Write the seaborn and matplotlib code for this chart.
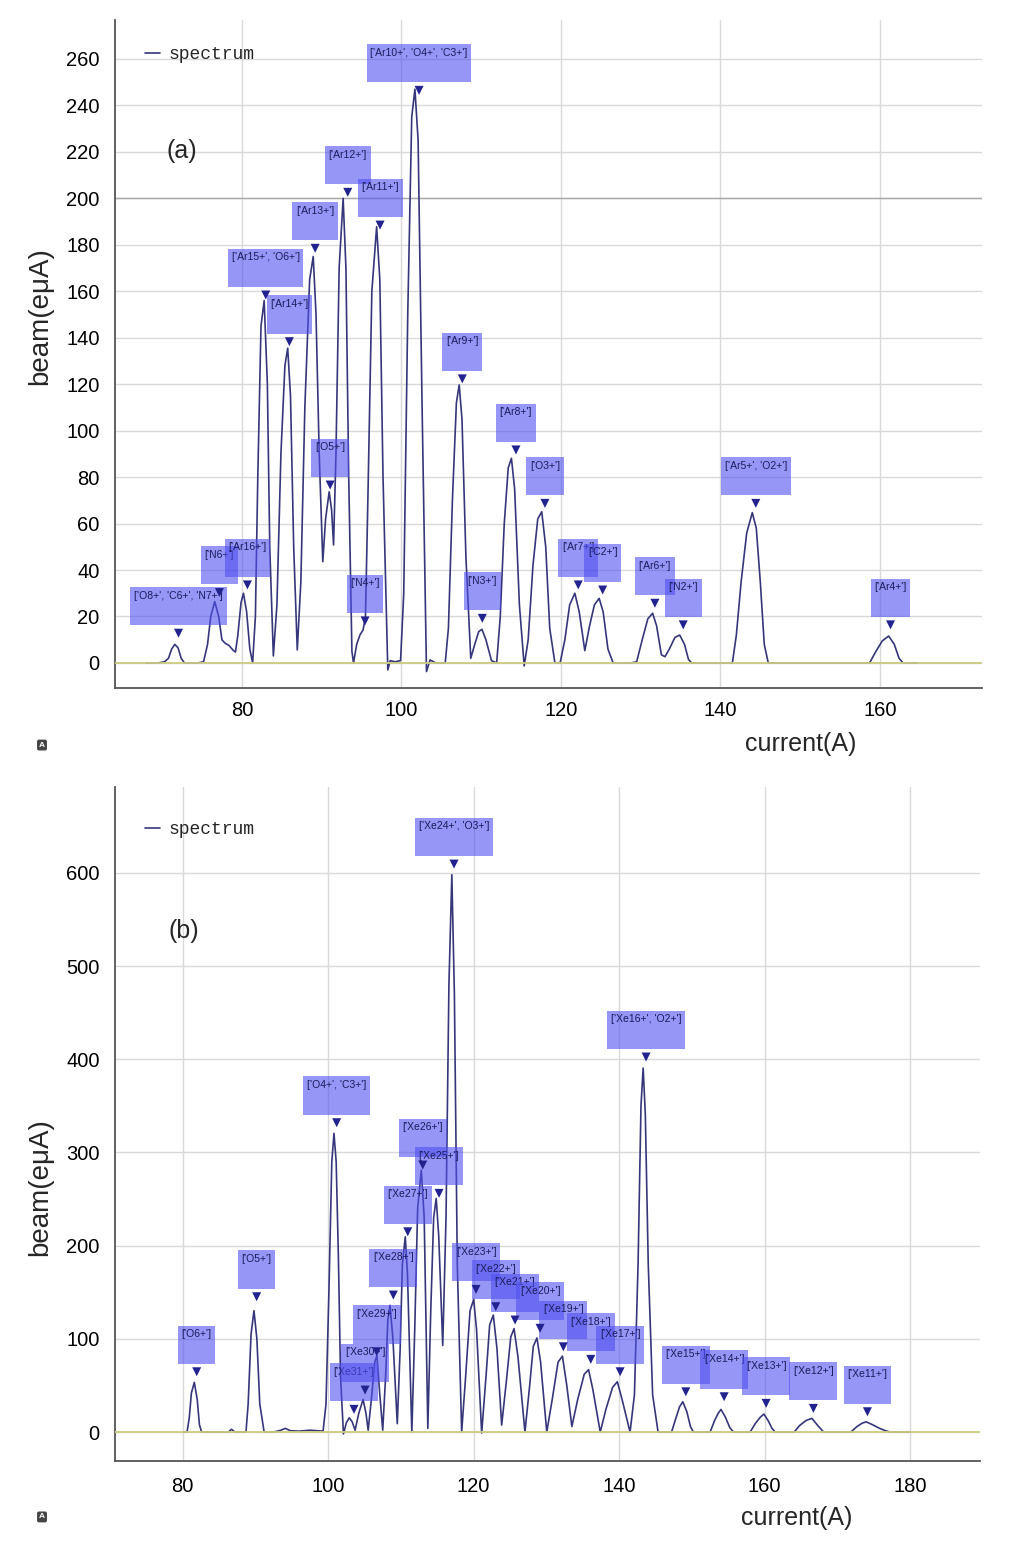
#!/usr/bin/env python3
# -*- coding: utf-8 -*-
"""
Charge state spectra, (a) Ar beam and (b) Xe beam, with peak labels.
"""
import pandas as pd
import seaborn as sns
import matplotlib.pyplot as plt

###############################################################################
#%% Spectrum (a)
a_current = [68.0, 69.5, 70.3,
             70.8, 71.2, 71.6, 72.0, 72.4, 72.8, 74.5, 75.2,
             75.7, 76.1, 76.6, 77.1, 77.5, 77.9, 78.4, 78.9, 79.2,
             79.5, 79.9, 80.2, 80.6, 81.0, 81.35,
             81.7, 82.0, 82.4, 82.8, 83.2, 83.5, 83.95,
             84.4, 84.9, 85.4, 85.75, 86.1, 86.5, 86.95,
             87.4, 87.9, 88.5, 88.95, 89.3, 89.7, 90.15,
             90.5, 90.95, 91.25, 91.5,
             91.8, 92.2, 92.7, 93.05, 93.4, 93.8,
             94.0, 94.4, 94.8, 95.2, 95.5,
             95.8, 96.3, 96.9, 97.3, 97.7, 98.3, 98.6, 99.2, 99.9,
             100.3, 100.8, 101.3, 101.7, 102.1, 102.6, 103.15, 103.6, 104.3, 105.5,
             105.9, 106.4, 106.9, 107.25, 107.6, 108.1, 108.7,
             109.2, 109.7, 110.1, 110.6, 111.3, 111.95,
             112.4, 112.9, 113.4, 113.8, 114.2, 114.8, 115.4,
             115.9, 116.5, 117.1, 117.6, 118.1, 118.6, 119.25, 119.9,
             120.5, 121.1, 121.75, 122.3, 123.0,
             123.6, 124.2, 124.8, 125.3, 125.9, 126.55, 128.8, 129.5,
             130.2, 130.9, 131.5, 132.0, 132.6, 133.05,
             133.6, 134.3, 134.9, 135.5, 136.0, 136.4, 141.5,
             142.0, 142.6, 143.3, 144.0, 144.5, 145.0, 145.5, 146.0, 158.7,
             159.5, 160.3, 161.1, 161.8, 162.4, 162.9, 164.7]
a_beam = [0, 0, 0.5,
          2, 6, 8, 6.5, 2, 0, 0, 0.5,
          8, 20, 26.4, 20, 10, 8.5, 7.5, 5.5, 4.7,
          12, 26, 30, 22, 6, 0,
          20, 80, 145, 156, 120, 50, 3,
          25, 90, 128, 135.5, 115, 50, 5.6,
          35, 110, 165, 175, 150, 90, 43.6,
          62, 73.7, 66, 50.8,
          90, 170, 200, 170, 80, 5,
          0, 8, 12, 14.2, 20,
          70, 160, 187.8, 165, 80, -3, 1, 0.5, 1,
          30, 150, 235, 247, 225, 110, -3.7, 1.3, 0, 0,
          15, 70, 112, 119.7, 105, 45, 2,
          8, 13.5, 14.5, 10, 1, 0,
          20, 60, 84, 88.1, 75, 25, -1.3,
          10, 42, 62, 65.1, 50, 15, 0, 0,
          10, 25, 30, 22, 5.3,
          16, 25, 27.8, 22, 6, 0, 0, 0.5,
          10, 19, 21.4, 16, 3.5, 2.7,
          6, 11, 12, 8, 1.5, 0, 0,
          12, 35, 56, 64.7, 58, 35, 8, 0, 0,
          5, 9.5, 11.6, 8, 2, 0, 0]

a_labels = ["['O8+', 'C6+', 'N7+']", "['N6+']", "['Ar16+']", "['Ar15+', 'O6+']",
            "['Ar14+']", "['Ar13+']", "['O5+']", "['Ar12+']", "['N4+']",
            "['Ar11+']", "['Ar10+', 'O4+', 'C3+']", "['Ar9+']", "['N3+']",
            "['Ar8+']", "['O3+']", "['Ar7+']", "['C2+']", "['Ar6+']", "['N2+']",
            "['Ar5+', 'O2+']", "['Ar4+']"]
a_label_current = [72.06, 77.19, 80.7, 83.0, 85.96, 89.19, 91.07, 93.28, 95.45,
                   97.33, 102.22, 107.64, 110.15, 114.37, 118.0, 122.18, 125.24,
                   131.79, 135.34, 144.44, 161.33]
a_label_beam = [12.8, 30.3, 33.6, 158.4, 138.3, 178.5, 76.6, 202.6, 18.1,
                188.5, 246.5, 122.3, 19.2, 91.7, 68.7, 33.6, 31.4,
                25.7, 16.4, 68.7, 16.4]

#%% Spectrum (b)
b_current = [80.1, 80.6, 80.9, 81.2, 81.6, 82.0, 82.3, 82.6,
             85.0, 86.3, 86.7, 87.2, 88.7,
             89.0, 89.4, 89.8, 90.2, 90.6, 91.2,
             92.5, 93.5, 94.1, 94.8, 96.0, 97.5, 99.3,
             99.7, 100.1, 100.5, 100.8, 101.1, 101.4, 101.7, 102.1,
             102.5, 102.9, 103.3, 103.7,
             104.2, 104.8, 105.2, 105.5,
             106.0, 106.4, 106.7, 107.1, 107.5,
             107.9, 108.2, 108.5, 108.9, 109.5,
             109.9, 110.2, 110.6, 110.9, 111.5,
             111.9, 112.3, 112.8, 113.2, 113.7,
             114.1, 114.5, 114.85, 115.2, 115.75,
             116.2, 116.6, 117.0, 117.35, 117.75, 118.35,
             118.9, 119.5, 120.0, 120.4, 121.1,
             121.7, 122.2, 122.7, 123.2, 123.85,
             124.5, 125.1, 125.55, 126.1, 127.05,
             127.7, 128.2, 128.7, 129.2, 130.05,
             130.8, 131.6, 132.2, 132.8, 133.5,
             134.3, 135.2, 135.8, 136.4, 137.4,
             138.2, 139.1, 139.75, 140.4, 141.5,
             142.1, 142.6, 143.0, 143.3, 143.6, 144.0, 144.6, 145.35,
             147.2, 147.8, 148.3, 148.75, 149.3, 149.8, 150.2,
             152.5, 153.1, 153.6, 154.0, 154.6, 155.2, 155.7,
             158.0, 158.7, 159.4, 159.9, 160.5, 161.0, 161.45,
             164.05, 164.8, 165.7, 166.5, 167.2, 168.1,
             171.85, 172.7, 173.4, 173.95, 174.8, 175.8, 176.6, 177.25, 180.0]
b_beam = [0, 0, 15, 42, 53.3, 35, 8, 0,
          0, 0, 3, 0, 0,
          30, 105, 130.2, 100, 30, 0,
          0, 2, 4, 1.5, 1, 2, 1,
          30, 150, 290, 320.5, 290, 190, 60, -2,
          10, 15.4, 11, 2,
          20, 35, 20, 2,
          40, 75, 82, 40, 2,
          60, 120, 136, 100, 9,
          90, 180, 209.5, 170, 0,
          110, 240, 281, 230, 4,
          130, 230, 250.7, 210, 93,
          230, 480, 598, 470, 180, 0,
          60, 130, 142.4, 110, -1,
          60, 115, 125.5, 90, 7.5,
          55, 102, 111, 80, 0,
          50, 92, 101, 75, 0,
          35, 75, 81.5, 50, 6,
          35, 62, 67, 45, 0,
          25, 48, 54, 35, 0,
          40, 180, 350, 390.6, 340, 180, 40, 0,
          0, 15, 27, 32.5, 22, 6, 0,
          0, 12, 20, 24.3, 16, 5, 0,
          0, 9, 16, 19.3, 12, 4, 0,
          0, 7, 12.5, 14.7, 8, 0,
          0, 6, 9.5, 11, 8, 4, 1.5, 0, 0]

b_labels = ["['O6+']", "['O5+']", "['O4+', 'C3+']", "['Xe31+']", "['Xe30+']",
            "['Xe29+']", "['Xe28+']", "['Xe27+']", "['Xe26+']", "['Xe25+']",
            "['Xe24+', 'O3+']", "['Xe23+']", "['Xe22+']", "['Xe21+']",
            "['Xe20+']", "['Xe19+']", "['Xe18+']", "['Xe17+']",
            "['Xe16+', 'O2+']", "['Xe15+']", "['Xe14+']", "['Xe13+']",
            "['Xe12+']", "['Xe11+']"]
b_label_current = [81.93, 90.17, 101.17, 103.55, 105.07, 106.67, 108.96, 110.94,
                   113.0, 115.24, 117.3, 120.33, 123.04, 125.69, 129.13, 132.33,
                   136.1, 140.13, 143.7, 149.16, 154.43, 160.2, 166.7, 174.13]
b_label_beam = [64.7, 145.2, 331.9, 24.4, 45.1, 86.2, 147.0, 214.9,
                286.5, 256.1, 609.4, 153.1, 134.5, 120.2, 111.3, 91.5,
                78.0, 64.7, 402.4, 43.2, 37.9, 30.8, 25.4, 21.8]

###############################################################################
#%% style
sns.set_theme(style="white")
plt.rcParams['font.family'] = ['Liberation Sans', 'DejaVu Sans']

LINE_COLOR = '#36367a'
ZERO_COLOR = '#cccc80'
GRID_COLOR = '#d9d9d9'
BOX_COLOR = '#5050f0'
MARK_COLOR = '#23238f'
TEXT_COLOR = '#1c1c5c'


def draw_panel(ax, x, y, labels, lx, ly, xlim, ylim, xticks, yticks, tag,
               tag_pos, leg_anchor, xlab_pos, ylab_pos, tick_pad):
    df = pd.DataFrame({'current': x, 'beam': y})
    sns.lineplot(data=df, x='current', y='beam', ax=ax, color=LINE_COLOR,
                 lw=1.2, sort=False, estimator=None, label='spectrum', zorder=3)
    ax.axhline(0, color=ZERO_COLOR, lw=1.3, zorder=4)

    ax.set_xlim(xlim)
    ax.set_ylim(ylim)
    ax.set_xticks(xticks)
    ax.set_yticks(yticks)
    ax.grid(True, color=GRID_COLOR, lw=1)
    ax.set_axisbelow(True)
    ax.tick_params(length=0, labelsize=14.5, colors='black')
    ax.tick_params(axis='y', pad=11)
    ax.tick_params(axis='x', pad=tick_pad)
    for s in ['top', 'right']:
        ax.spines[s].set_visible(False)
    for s in ['left', 'bottom']:
        ax.spines[s].set_color('#555555')
        ax.spines[s].set_linewidth(1.3)

    # peak labels: marker + translucent box
    mk = pd.DataFrame({'current': lx, 'beam': ly})
    sns.scatterplot(data=mk, x='current', y='beam', ax=ax, marker='v', s=42,
                    color=MARK_COLOR, edgecolor='none', zorder=6, legend=False)
    for t, xx, yy in zip(labels, lx, ly):
        ax.annotate(t + '\n\n', xy=(xx, yy), xytext=(0, 8.5),
                    textcoords='offset points', ha='center', va='bottom',
                    fontsize=7.5, linespacing=1.05, color=TEXT_COLOR, zorder=5,
                    bbox=dict(boxstyle='square,pad=0.35', fc=BOX_COLOR,
                              ec='none', alpha=0.6))

    ax.text(tag_pos[0], tag_pos[1], tag, transform=ax.transAxes, fontsize=18,
            ha='left', va='center')
    ax.legend(loc='upper left', bbox_to_anchor=leg_anchor, frameon=False,
              prop={'family': 'Liberation Mono', 'size': 13},
              handlelength=0.8, handletextpad=0.5, borderaxespad=0,
              borderpad=0.4)

    ax.set_xlabel('current(A)', fontsize=18)
    ax.set_ylabel('beam(e\u03bcA)', fontsize=20)
    ax.xaxis.set_label_coords(*xlab_pos)
    ax.xaxis.label.set_verticalalignment('center')
    ax.yaxis.set_label_coords(*ylab_pos)
    ax.yaxis.label.set_verticalalignment('center')


fig = plt.figure(figsize=(10.17, 15.6), dpi=100)
ax1 = fig.add_axes([0.1131, 0.5588, 0.8525, 0.4284])
ax2 = fig.add_axes([0.1131, 0.0636, 0.8505, 0.4321])

draw_panel(ax1, a_current, a_beam, a_labels, a_label_current, a_label_beam,
           (64.1, 172.8), (-10.9, 276.8), range(80, 161, 20), range(0, 261, 20),
           '(a)', (0.0596, 0.804), (0.0265, 0.972), (0.791, -0.083),
           (-0.0865, 0.557), 9)
draw_panel(ax2, b_current, b_beam, b_labels, b_label_current, b_label_beam,
           (70.7, 189.6), (-30.8, 692.4), range(80, 181, 20), range(0, 601, 100),
           '(b)', (0.0613, 0.786), (0.0265, 0.960), (0.788, -0.085),
           (-0.0867, 0.406), 12)

# darker reference line at 200 in (a)
ax1.axhline(200, color='#a8a8a8', lw=1, zorder=1)

# little watermark icons
for yy in [0.5224, 0.0276]:
    fig.text(0.0413, yy, 'A', fontsize=6, color='white', weight='bold',
             ha='center', va='center',
             bbox=dict(boxstyle='round,pad=0.15', fc='#444444', ec='#444444'))

fig.savefig('out.png', dpi=100)
